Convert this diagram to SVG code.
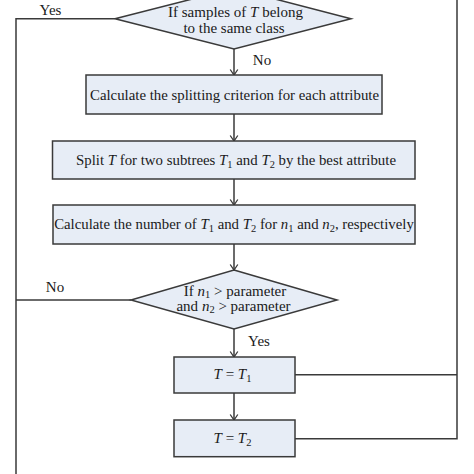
<svg xmlns="http://www.w3.org/2000/svg" width="474" height="474" viewBox="0 0 474 474">
<defs>
<style>
.shape{fill:#e7edf6;stroke:#3a3a3a;stroke-width:1.5}
.line{fill:none;stroke:#3a3a3a;stroke-width:1.5}
text{font-family:"Liberation Serif","Times New Roman",serif;font-size:15px;fill:#1a1a1a}
.c{text-anchor:middle}
.i{font-style:italic}
.s{font-size:10.5px}
</style>
<marker id="arr" markerUnits="userSpaceOnUse" viewBox="-1 -5 8 10" refX="5.5" refY="0" markerWidth="8" markerHeight="10" orient="auto">
<path d="M0,-3.8 L5.5,0 L0,3.8" fill="none" stroke="#3a3a3a" stroke-width="1.3"/>
</marker>
</defs>
<rect width="474" height="474" fill="#ffffff"/>
<g id="connectors">
<line class="line" x1="234" y1="49" x2="234" y2="75" marker-end="url(#arr)"/>
<line class="line" x1="234" y1="114" x2="234" y2="141" marker-end="url(#arr)"/>
<line class="line" x1="234" y1="179" x2="234" y2="205" marker-end="url(#arr)"/>
<line class="line" x1="234" y1="244" x2="234" y2="270" marker-end="url(#arr)"/>
<line class="line" x1="234" y1="329" x2="234" y2="357" marker-end="url(#arr)"/>
<line class="line" x1="234" y1="393" x2="234" y2="420" marker-end="url(#arr)"/>
<polyline class="line" points="115,18.7 16,18.7 16,474"/>
<line class="line" x1="131" y1="300" x2="16" y2="300"/>
<line class="line" x1="295" y1="374.7" x2="457" y2="374.7"/>
<polyline class="line" points="295,438.7 457,438.7 457,0"/>
<text class="c" x="50.5" y="15">Yes</text>
<text class="c" x="262" y="65">No</text>
<text class="c" x="55" y="292">No</text>
<text class="c" x="259" y="346">Yes</text>
</g>
<g id="decision1">
<polygon class="shape" points="234,-11.6 351,18.7 234,49 115,18.7"/>
<text class="c" x="235.5" y="17.3">If samples of <tspan class="i">T</tspan> belong</text>
<text class="c" x="234" y="33">to the same class</text>
</g>
<g id="step1">
<rect class="shape" x="86" y="75" width="296" height="39"/>
<text class="c" x="234.5" y="99.5" textLength="289" lengthAdjust="spacingAndGlyphs">Calculate the splitting criterion for each attribute</text>
</g>
<g id="step2">
<rect class="shape" x="52.5" y="141" width="362.5" height="38"/>
<text class="c" x="236" y="164.5" textLength="320" lengthAdjust="spacingAndGlyphs">Split <tspan class="i">T</tspan> for two subtrees <tspan class="i">T</tspan><tspan class="s" dy="3">1</tspan><tspan dy="-3"> and </tspan><tspan class="i">T</tspan><tspan class="s" dy="3">2</tspan><tspan dy="-3"> by the best attribute</tspan></text>
</g>
<g id="step3">
<rect class="shape" x="53" y="205" width="362" height="39"/>
<text class="c" x="234" y="229" style="font-size:14.8px">Calculate the number of <tspan class="i">T</tspan><tspan class="s" dy="3">1</tspan><tspan dy="-3"> and </tspan><tspan class="i">T</tspan><tspan class="s" dy="3">2</tspan><tspan dy="-3"> for </tspan><tspan class="i">n</tspan><tspan class="s" dy="3">1</tspan><tspan dy="-3"> and </tspan><tspan class="i">n</tspan><tspan class="s" dy="3">2</tspan><tspan dy="-3">, respectively</tspan></text>
</g>
<g id="decision2">
<polygon class="shape" points="234,270 337,300 234,329 131,300"/>
<text class="c" x="235" y="295.5">If <tspan class="i">n</tspan><tspan class="s" dy="2">1</tspan><tspan dy="-2"> &gt; parameter</tspan></text>
<text class="c" x="233.5" y="311">and <tspan class="i">n</tspan><tspan class="s" dy="2">2</tspan><tspan dy="-2"> &gt; parameter</tspan></text>
</g>
<g id="assign1">
<rect class="shape" x="174" y="357" width="121" height="36"/>
<text class="c" x="232.5" y="379"><tspan class="i">T</tspan> = <tspan class="i">T</tspan><tspan class="s" dy="3">1</tspan></text>
</g>
<g id="assign2">
<rect class="shape" x="174" y="420" width="121" height="36.7"/>
<text class="c" x="232.5" y="443"><tspan class="i">T</tspan> = <tspan class="i">T</tspan><tspan class="s" dy="3">2</tspan></text>
</g>
</svg>
